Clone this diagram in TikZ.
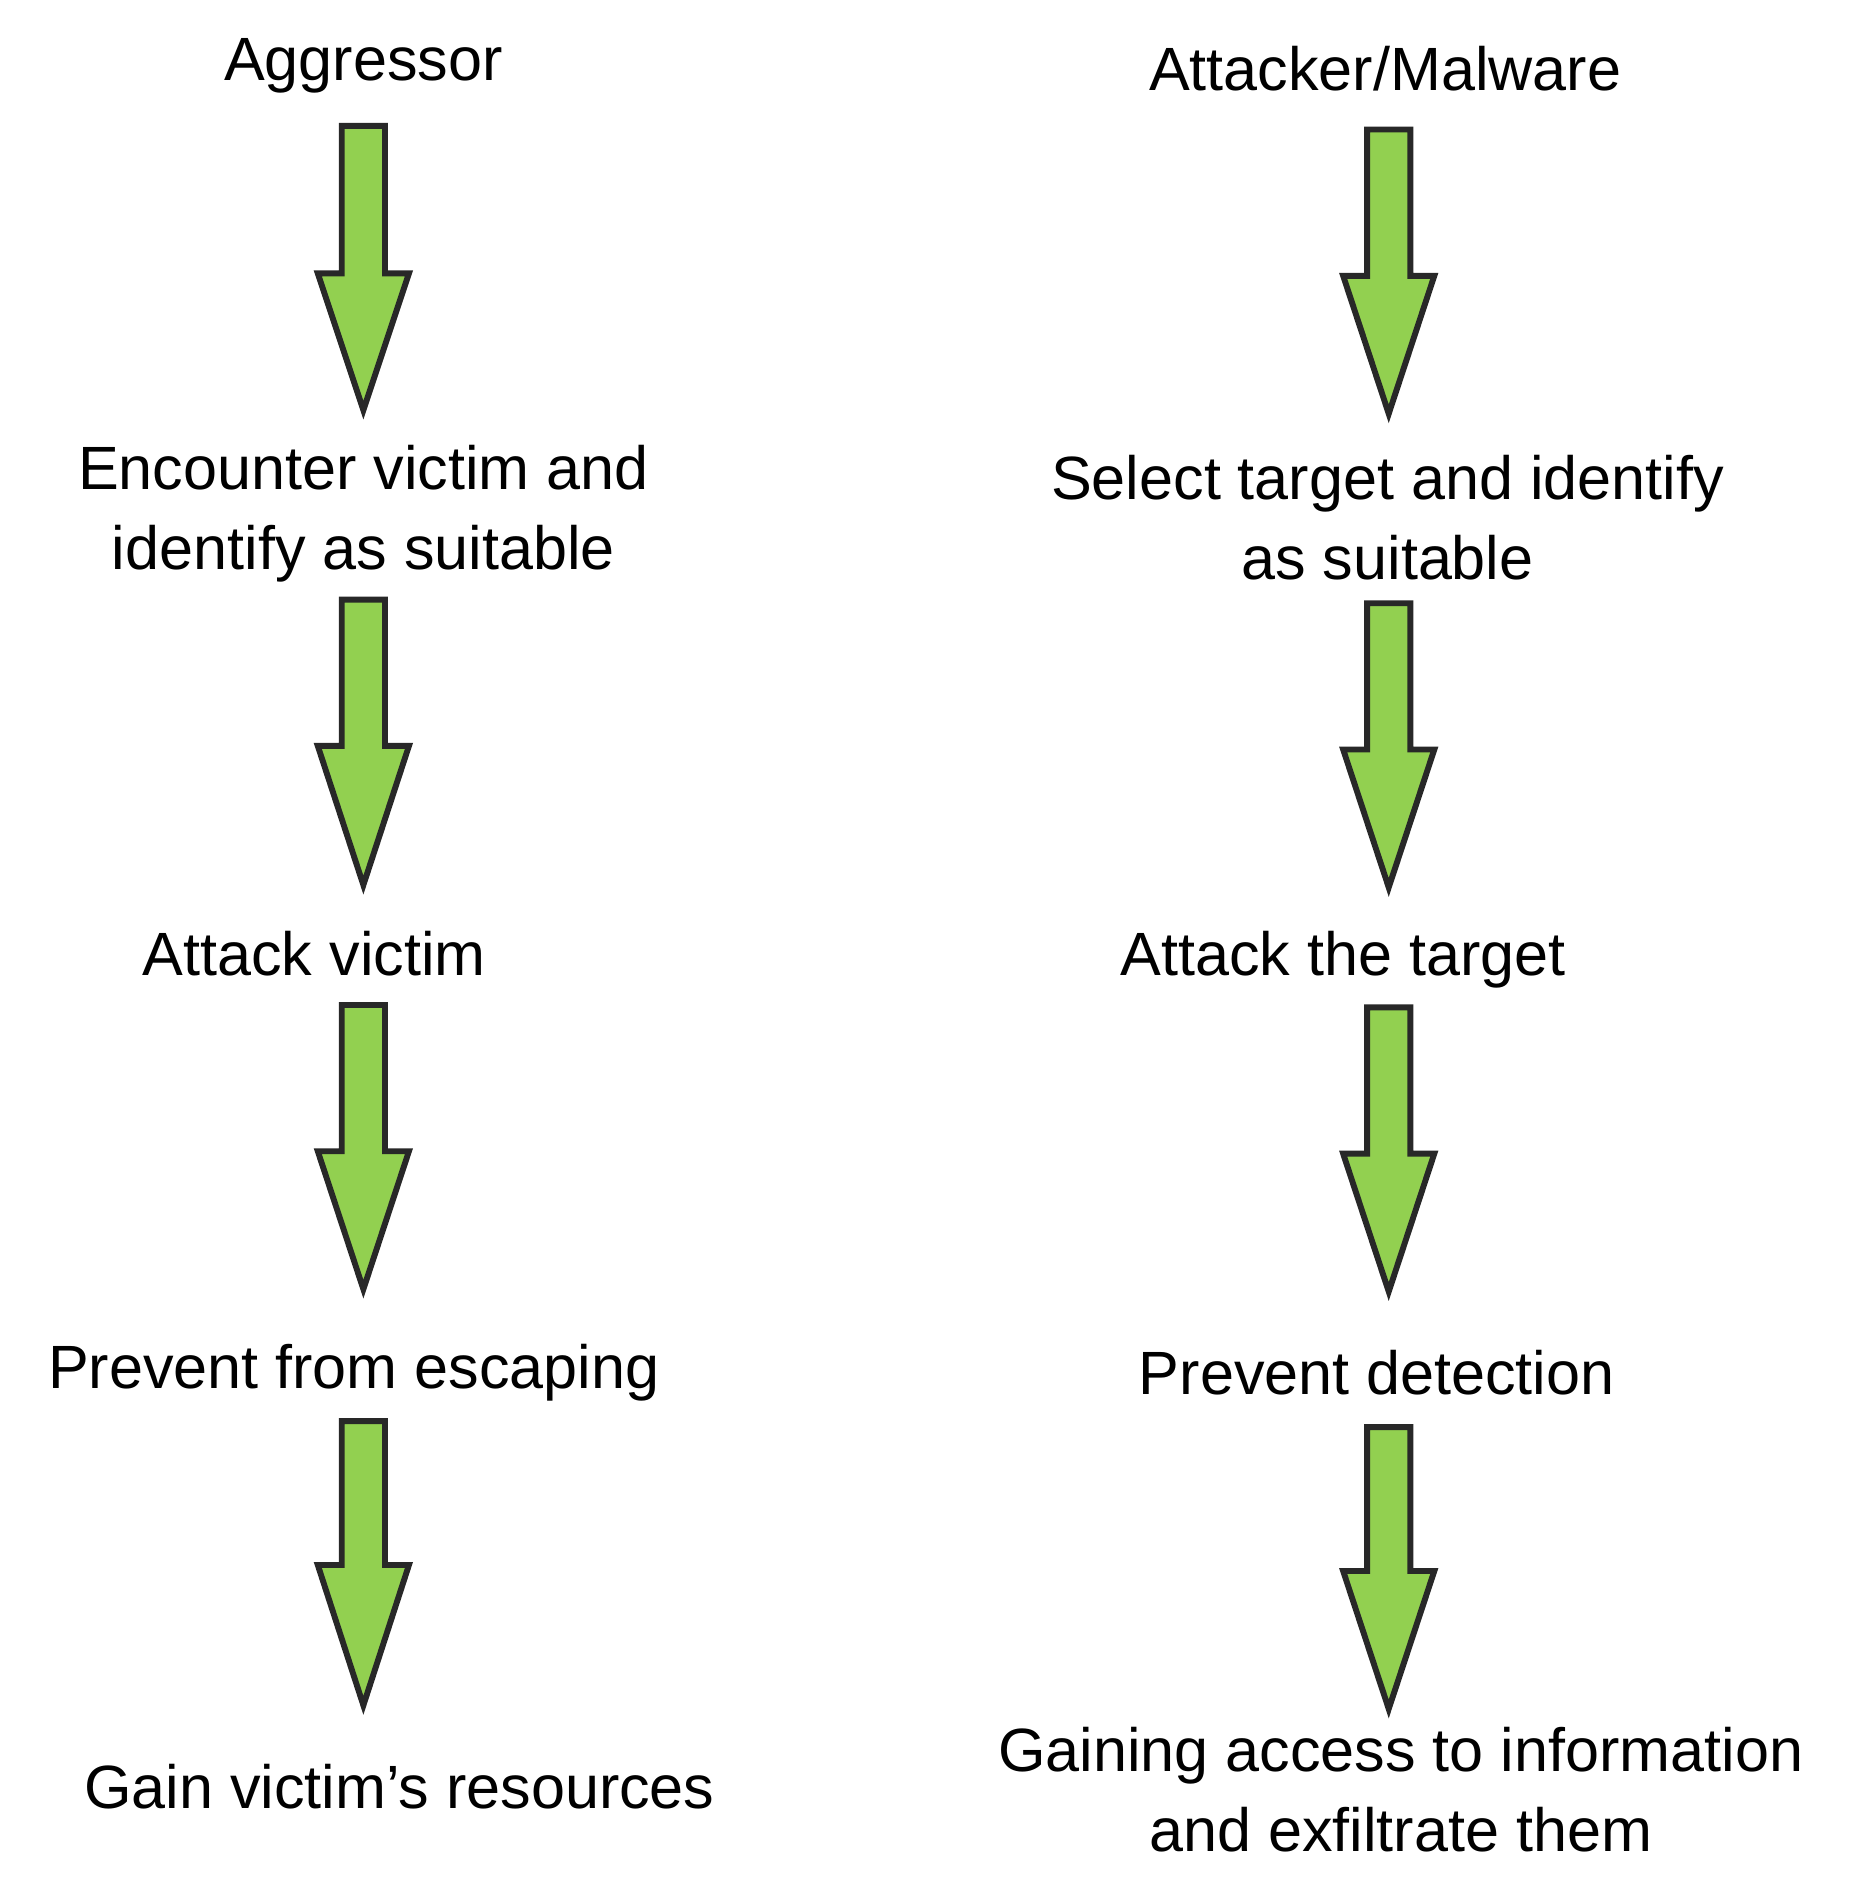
\documentclass[tikz,border=0pt]{standalone}
\usepackage{fontspec}
\setmainfont{Liberation Sans}
\tikzset{
  lbl/.style={font=\fontsize{14.5pt}{19pt}\selectfont, align=center, inner sep=0pt},
  barrow/.style={fill=green!55!lime!80!black!90, fill={rgb,255:red,146;green,208;blue,80}, draw={rgb,255:red,40;green,40;blue,40}, line width=1.4pt, line join=miter}
}
\newcommand{\blockarr}[4]{%
  \draw[barrow] ({(#1-18)/100},{-#2/100}) -- ({(#1+18)/100},{-#2/100}) -- ({(#1+18)/100},{-#3/100}) -- ({(#1+38)/100},{-#3/100}) -- ({#1/100},{-#4/100}) -- ({(#1-38)/100},{-#3/100}) -- ({(#1-18)/100},{-#3/100}) -- cycle;}
\begin{document}
\begin{tikzpicture}
\useasboundingbox (0,0) rectangle (15.60,-15.71);
% left column
\node[lbl] (a0) at (3.03,-0.55) {Aggressor};
\node[lbl] (a1) at (3.03,-4.28) {Encounter victim and\\identify as suitable};
\node[lbl] (a2) at (2.62,-7.95) {Attack victim};
\node[lbl] (a3) at (2.95,-11.45) {Prevent from escaping};
\node[lbl] (a4) at (3.33,-14.90) {Gain victim's resources};
\blockarr{303}{105}{228}{342}
\blockarr{303}{500}{622}{738}
\blockarr{303}{838}{960}{1075}
\blockarr{303}{1185}{1305}{1422}
% right column
\node[lbl] (b0) at (11.55,-0.57) {Attacker/Malware};
\node[lbl] (b1) at (11.57,-4.32) {Select target and identify\\as suitable};
\node[lbl] (b2) at (11.20,-8.00) {Attack the target};
\node[lbl] (b3) at (11.48,-11.45) {Prevent detection};
\node[lbl] (b4) at (11.68,-14.92) {Gaining access to information\\and exfiltrate them};
\blockarr{1158}{108}{230}{345}
\blockarr{1158}{503}{625}{740}
\blockarr{1158}{840}{962}{1077}
\blockarr{1158}{1190}{1310}{1425}
\end{tikzpicture}
\end{document}
